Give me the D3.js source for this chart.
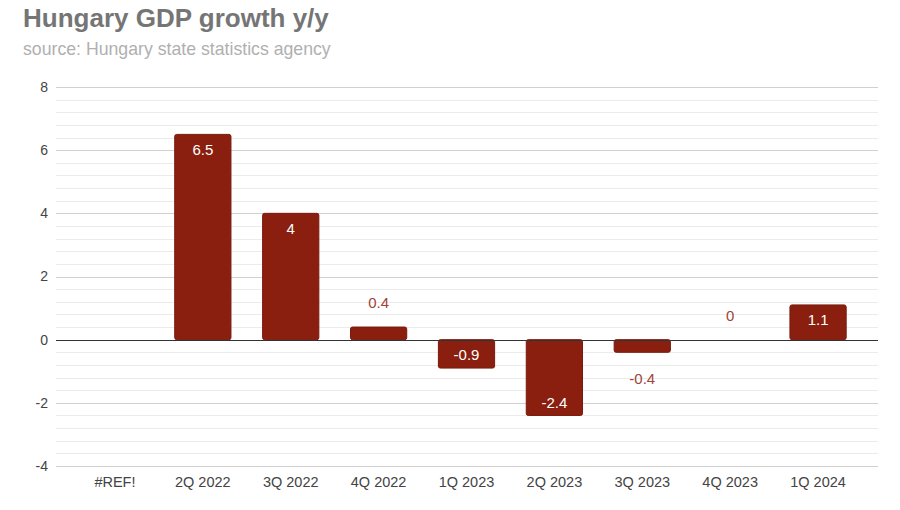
<!DOCTYPE html>
<html>
<head>
<meta charset="utf-8">
<script src="https://cdn.jsdelivr.net/npm/d3@7"></script>
<style>
  body { margin: 0; background: #fff; }
  svg { font-family: "Liberation Sans", Arial, sans-serif; }
</style>
</head>
<body>
<svg id="chart"></svg>
<script>
// data
const quarters = ["#REF!", "2Q 2022", "3Q 2022", "4Q 2022", "1Q 2023", "2Q 2023", "3Q 2023", "4Q 2023", "1Q 2024"];
const growth = [null, 6.5, 4, 0.4, -0.9, -2.4, -0.4, 0, 1.1];
const yTicks = [-4, -2, 0, 2, 4, 6, 8];

const width = 900, height = 510;
const svg = d3.select("#chart").attr("width", width).attr("height", height);

const plotLeft = 56, plotRight = 878;

const x = d3.scaleBand()
    .domain(quarters)
    .range([71, 862])
    .paddingInner(0.36)
    .paddingOuter(0.18);

const y = d3.scaleLinear().domain([-4, 8]).range([466, 87]);

// title
svg.append("text")
    .attr("x", 23).attr("y", 27)
    .style("font-size", "26px").style("font-weight", "bold")
    .attr("fill", "#757575")
    .text("Hungary GDP growth y/y");
svg.append("text")
    .attr("x", 23).attr("y", 55)
    .style("font-size", "17.7px")
    .attr("fill", "#b0b0b0")
    .text("source: Hungary state statistics agency");

// minor gridlines
const minor = d3.range(-4, 8.001, 0.4).filter(v => Math.abs(v / 2 - Math.round(v / 2)) > 0.01);
svg.append("g").selectAll("line").data(minor).join("line")
    .attr("x1", plotLeft).attr("x2", plotRight)
    .attr("y1", d => Math.round(y(d)) + 0.5).attr("y2", d => Math.round(y(d)) + 0.5)
    .attr("stroke", "#ebebeb");

// major gridlines
svg.append("g").selectAll("line").data(yTicks.filter(d => d !== 0)).join("line")
    .attr("x1", plotLeft).attr("x2", plotRight)
    .attr("y1", d => Math.round(y(d)) + 0.5).attr("y2", d => Math.round(y(d)) + 0.5)
    .attr("stroke", "#d0d0d0");

// y axis labels
svg.append("g").selectAll("text").data(yTicks).join("text")
    .attr("x", 48).attr("y", d => y(d))
    .attr("dy", "0.35em")
    .attr("text-anchor", "end")
    .style("font-size", "14px")
    .attr("fill", "#444")
    .text(d => d);

// bars
const bars = quarters.map((q, i) => ({ q, v: growth[i] })).filter(d => d.v !== null);

svg.append("g").selectAll("rect").data(bars.filter(d => d.v !== 0)).join("rect")
    .attr("x", d => x(d.q))
    .attr("width", x.bandwidth())
    .attr("y", d => y(Math.max(0, d.v)))
    .attr("height", d => Math.abs(y(d.v) - y(0)))
    .attr("rx", 2)
    .attr("fill", "#8a1f0f")
    .attr("stroke", "#7a1a0c")
    .attr("stroke-width", 1);

// zero line
svg.append("line")
    .attr("x1", plotLeft).attr("x2", plotRight)
    .attr("y1", Math.round(y(0)) + 0.5).attr("y2", Math.round(y(0)) + 0.5)
    .attr("stroke", "#333");

// value labels
const inside = d => Math.abs(y(d.v) - y(0)) > 24;
svg.append("g").selectAll("text").data(bars).join("text")
    .attr("x", d => x(d.q) + x.bandwidth() / 2)
    .attr("y", d => {
        if (inside(d)) return d.v > 0 ? y(d.v) + 15 : y(d.v) - 13;
        return d.v >= 0 ? y(d.v) - 24 : y(d.v) + 26;
    })
    .attr("dy", "0.35em")
    .attr("text-anchor", "middle")
    .style("font-size", "15px")
    .attr("fill", d => inside(d) ? "#fff" : "#a04338")
    .text(d => d.v);

// x labels
svg.append("g").selectAll("text").data(quarters).join("text")
    .attr("x", d => x(d) + x.bandwidth() / 2)
    .attr("y", 482)
    .attr("dy", "0.35em")
    .attr("text-anchor", "middle")
    .style("font-size", "14.5px")
    .attr("fill", "#444")
    .text(d => d);
</script>
</body>
</html>
